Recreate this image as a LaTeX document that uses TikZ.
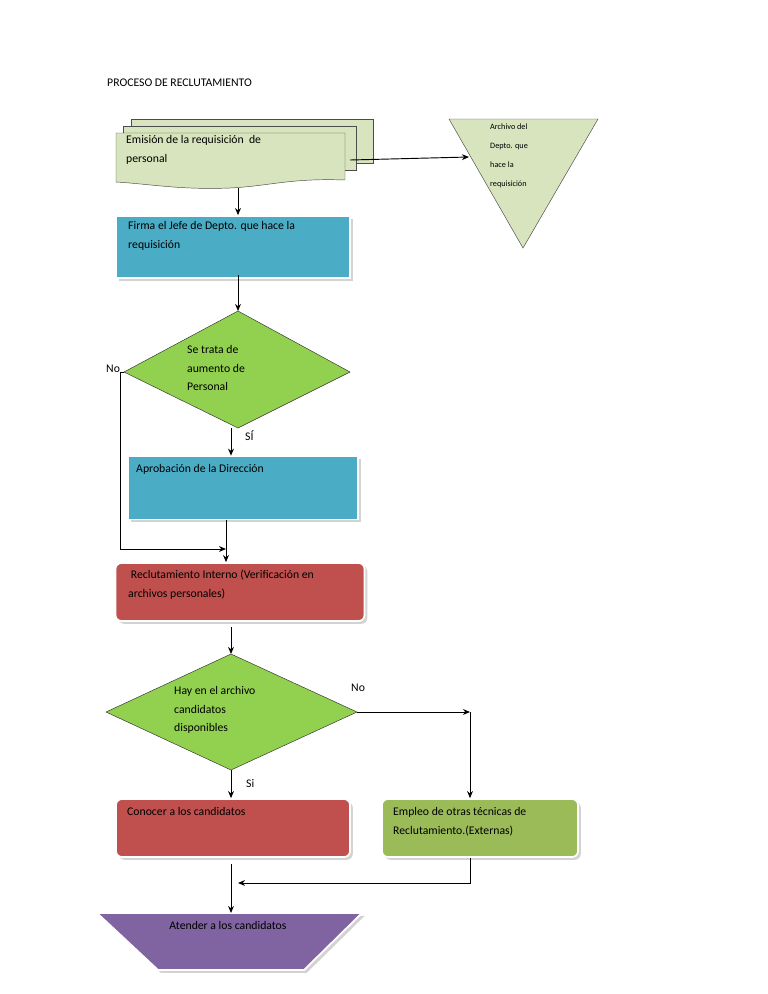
\documentclass[tikz,border=0pt]{standalone}
\usepackage{fontspec}
\setmainfont{Carlito}
\usetikzlibrary{arrows.meta,positioning,calc,shadows}
\definecolor{docgreen}{HTML}{D7E4BD}
\definecolor{boxblue}{HTML}{4BACC6}
\definecolor{boxred}{HTML}{C0504D}
\definecolor{boxgreen}{HTML}{9BBB59}
\definecolor{diagreen}{HTML}{92D050}
\definecolor{boxpurple}{HTML}{8064A2}
\begin{document}
\begin{tikzpicture}[x=0.03cm, y=-0.03cm, >={Stealth[length=6pt,width=5pt]},
  every node/.style={font=\fontsize{10}{16}\selectfont},
  txt/.style={anchor=north west, align=left, inner sep=0pt},
  sheet/.style={draw=black!70, fill=docgreen},
  box/.style={draw=white, line width=1.5pt, drop shadow={opacity=0.35}},
  rbox/.style={box, rounded corners=5pt},
  decision/.style={draw=black!80, fill=diagreen},
  flow/.style={->, thick}
]
\useasboundingbox (0,0) rectangle (768,994);

% Title
\node[txt] (title) at (107,79) {PROCESO DE RECLUTAMIENTO};

% Stacked documents
\draw[sheet] (131,119) rectangle (373,163);
\draw[sheet] (123,126) rectangle (356,170);
\draw[sheet] (116,133) -- (345,133) -- (345,180)
  .. controls (290,178) and (270,186) .. (230,188)
  .. controls (180,190) and (150,184) .. (116,182) -- cycle;
\coordinate (doc) at (238,188);
\coordinate (docr) at (350,160);
\node[txt] (docT) at (126,135) {Emisión de la requisición\ \ de\\personal};

% Archive triangle
\draw[sheet] (449,119) -- (598,119) -- (523,248) -- cycle;
\coordinate (arch) at (469,157);
\node[txt, font=\fontsize{7}{16}\selectfont] (archT) at (490,124) {Archivo del\\Depto. que\\hace la\\requisición};

% Firma
\node[box, fill=boxblue, minimum width=234*0.03cm, minimum height=62*0.03cm] (firma) at (233,247) {};
\node[txt] (firmaT) at (128,221) {Firma el Jefe de Depto. que hace la\\requisición};

% Decision 1
\draw[decision] (238,311) coordinate (d1t) -- (350,372) coordinate (d1r)
  -- (238,428) coordinate (d1b) -- (124,372) coordinate (d1l) -- cycle;
\node[txt] (d1T) at (187,345) {Se trata de\\aumento de\\Personal};
\node[txt] (no1) at (106,365) {No};
\node[txt] (si1) at (245,430) {SÍ};

% Aprobacion
\node[box, fill=boxblue, minimum width=230*0.03cm, minimum height=63*0.03cm] (aprob) at (243,488) {};
\node[txt] (aprobT) at (136,464) {Aprobación de la Dirección};

% Reclutamiento interno
\node[rbox, fill=boxred, minimum width=249*0.03cm, minimum height=58*0.03cm] (recl) at (240,592) {};
\node[txt] (reclT) at (128,570) {\ Reclutamiento Interno (Verificación en\\archivos personales)};

% Decision 2
\draw[decision] (231,654) coordinate (d2t) -- (357,712) coordinate (d2r)
  -- (231,770) coordinate (d2b) -- (106,712) coordinate (d2l) -- cycle;
\node[txt] (d2T) at (174,686) {Hay en el archivo\\candidatos\\disponibles};
\node[txt] (no2) at (351,684) {No};
\node[txt] (si2) at (246,779) {Si};

% Conocer / Empleo
\node[rbox, fill=boxred, minimum width=234*0.03cm, minimum height=58*0.03cm] (conoc) at (233,828) {};
\node[txt] (conocT) at (127,807) {Conocer a los candidatos};
\node[rbox, fill=boxgreen, minimum width=196*0.03cm, minimum height=58*0.03cm] (empleo) at (480,828) {};
\node[txt] (empleoT) at (393,807) {Empleo de otras técnicas de\\Reclutamiento.(Externas)};

% Atender
\draw[draw=white, line width=1.5pt, fill=boxpurple, drop shadow={opacity=0.35}]
  (97,913) -- (362,913) -- (304,970) -- (158,970) -- cycle;
\coordinate (aten) at (231,913);
\node[anchor=north, inner sep=0pt] (atenT) at (228,921) {Atender a los candidatos};

% Connectors
\draw[flow] (doc) -- (firma.north -| doc);
\draw[flow] (docr) -- (arch);
\draw[flow] (firma.south -| d1t) ++(0,-4) -- (d1t);
\draw[flow] (d1b -| 231,0) -- (aprob.north -| 231,0);
\coordinate (join) at (226,549);
\draw[flow] (d1l) -- (120,372) -- (120,549) -- (join);
\draw[flow] (aprob.south -| join) -- (recl.north -| join);
\draw[flow] (recl.south -| d2t) ++(0,5) -- (d2t);
\draw[flow] (d2b) -- (conoc.north -| d2b);
\draw[flow] (d2r) -- (470,712);
\draw[flow] (470,712) -- (empleo.north -| 470,0);
\draw[flow] (empleo.south -| 470,0) -- (470,883) -- (238,883);
\draw[flow] (conoc.south -| aten) ++(0,6) -- (aten);
\end{tikzpicture}
\end{document}
